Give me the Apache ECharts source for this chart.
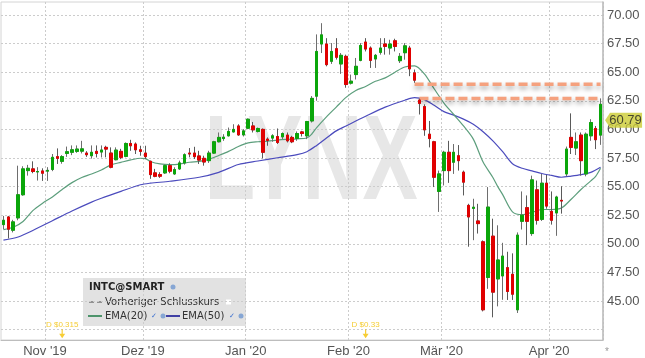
<!DOCTYPE html>
<html><head><meta charset="utf-8">
<script src="https://cdn.jsdelivr.net/npm/echarts@6/dist/echarts.min.js"></script>
<style>html,body{margin:0;padding:0;background:#fff}#c{width:645px;height:358px}</style>
</head><body><div id="c"></div>
<script>
// ---------- DATA ----------
const dates = [
'2019-10-21','2019-10-22','2019-10-23','2019-10-24','2019-10-25','2019-10-28','2019-10-29','2019-10-30','2019-10-31',
'2019-11-01','2019-11-04','2019-11-05','2019-11-06','2019-11-07','2019-11-08','2019-11-11','2019-11-12','2019-11-13','2019-11-14','2019-11-15','2019-11-18','2019-11-19','2019-11-20','2019-11-21','2019-11-22','2019-11-25','2019-11-26','2019-11-27','2019-11-29',
'2019-12-02','2019-12-03','2019-12-04','2019-12-05','2019-12-06','2019-12-09','2019-12-10','2019-12-11','2019-12-12','2019-12-13','2019-12-16','2019-12-17','2019-12-18','2019-12-19','2019-12-20','2019-12-23','2019-12-24','2019-12-26','2019-12-27','2019-12-30','2019-12-31',
'2020-01-02','2020-01-03','2020-01-06','2020-01-07','2020-01-08','2020-01-09','2020-01-10','2020-01-13','2020-01-14','2020-01-15','2020-01-16','2020-01-17','2020-01-21','2020-01-22','2020-01-23','2020-01-24','2020-01-27','2020-01-28','2020-01-29','2020-01-30','2020-01-31',
'2020-02-03','2020-02-04','2020-02-05','2020-02-06','2020-02-07','2020-02-10','2020-02-11','2020-02-12','2020-02-13','2020-02-14','2020-02-18','2020-02-19','2020-02-20','2020-02-21','2020-02-24','2020-02-25','2020-02-26','2020-02-27','2020-02-28',
'2020-03-02','2020-03-03','2020-03-04','2020-03-05','2020-03-06','2020-03-09','2020-03-10','2020-03-11','2020-03-12','2020-03-13','2020-03-16','2020-03-17','2020-03-18','2020-03-19','2020-03-20','2020-03-23','2020-03-24','2020-03-25','2020-03-26','2020-03-27','2020-03-30','2020-03-31',
'2020-04-01','2020-04-02','2020-04-03','2020-04-06','2020-04-07','2020-04-08','2020-04-09','2020-04-13','2020-04-14','2020-04-15','2020-04-16'
];
const openV = [
51.68,52.35,51.19,52.27,54.29,56.40,56.55,56.28,56.37,
56.35,56.50,57.62,57.21,57.90,58.00,58.08,58.10,57.93,57.70,58.08,58.02,58.43,57.93,57.35,58.08,57.64,58.77,58.72,58.22,
57.93,57.21,56.20,56.05,56.20,56.83,56.11,56.55,57.07,57.93,57.93,57.68,57.47,57.27,57.93,58.92,59.20,59.44,59.78,60.30,59.52,
60.10,60.30,59.82,60.00,59.15,59.24,59.38,59.35,59.50,59.30,59.21,59.78,59.44,60.74,62.90,67.46,67.46,65.95,67.05,65.72,66.38,
64.04,64.79,66.03,67.63,67.11,66.15,66.73,67.46,67.11,67.74,66.00,66.70,67.11,64.94,62.56,61.99,59.58,58.92,54.58,
56.40,58.00,57.13,57.70,56.26,53.36,53.10,52.00,50.18,47.06,50.67,46.94,47.20,47.92,47.34,44.24,51.97,53.16,50.90,54.72,52.14,55.30,
52.84,52.70,53.80,56.11,59.30,58.37,59.50,56.11,59.44,60.08,59.50
];
const closeV = [
52.06,51.28,51.92,54.29,56.55,56.60,56.32,56.32,56.17,
56.42,57.56,57.47,57.62,58.05,58.22,58.28,58.30,57.79,58.00,57.90,58.20,58.28,56.69,58.19,57.56,58.77,58.57,58.22,58.08,
57.62,56.05,55.90,55.91,56.83,56.35,56.49,57.07,57.79,57.85,57.62,57.32,57.15,57.93,58.92,59.30,59.32,59.82,60.00,59.52,59.87,
60.89,59.96,60.08,58.00,59.04,59.44,58.86,59.64,59.00,58.92,59.64,59.64,60.69,62.71,66.81,68.26,65.66,66.81,66.30,66.47,63.92,
64.21,65.51,67.33,67.02,66.03,66.47,67.11,67.25,67.46,67.25,66.38,67.30,65.29,64.30,62.27,59.96,59.20,55.82,56.11,
58.00,56.40,58.00,57.27,55.39,52.35,53.20,51.77,44.24,53.21,45.78,48.59,48.93,45.84,45.60,50.76,52.50,51.97,55.59,52.06,55.30,53.30,
52.06,54.09,53.74,58.28,58.43,58.92,57.27,59.58,60.60,59.10,62.19
];
const lowV = [
51.28,50.47,51.00,52.06,54.20,55.96,56.17,55.53,55.50,
55.50,56.35,56.98,57.00,57.60,57.75,57.95,57.90,57.60,57.45,57.55,57.55,57.56,56.60,57.30,57.40,57.56,58.13,57.85,57.70,
57.41,55.68,55.82,55.76,56.11,56.17,56.02,56.46,56.92,57.56,57.41,56.98,56.83,57.07,57.85,58.86,59.00,59.38,59.73,59.44,59.38,
60.02,59.73,59.73,57.47,58.57,58.92,58.72,59.15,58.86,58.80,59.00,59.38,59.15,60.60,62.50,66.67,65.51,65.72,66.10,64.85,63.64,
63.92,64.36,65.95,66.81,65.37,65.37,66.53,66.53,66.53,66.81,65.80,66.09,64.65,64.07,61.30,59.44,58.43,54.96,52.79,
55.10,55.33,56.11,56.40,54.23,49.75,50.32,50.90,44.10,46.07,43.58,44.54,45.11,45.10,45.10,43.96,51.25,49.89,50.70,51.68,52.00,53.07,
51.68,50.70,52.64,55.90,57.85,57.76,55.96,55.90,59.00,58.28,58.65
];
const highV = [
52.44,52.44,52.10,56.83,56.78,56.90,57.21,56.70,56.60,
56.70,57.85,58.34,57.75,58.50,58.60,58.60,59.00,58.10,58.60,58.60,58.60,58.57,58.43,58.43,58.30,58.86,59.09,58.86,58.57,
58.57,57.27,56.55,56.26,56.92,57.04,56.69,57.27,57.91,58.37,58.48,58.13,57.70,58.13,59.00,59.73,59.58,60.16,60.45,60.45,60.02,
60.95,60.65,60.16,60.08,59.30,59.58,60.08,59.73,59.73,59.44,59.82,59.87,60.74,62.91,68.30,69.28,67.97,67.54,67.97,66.67,66.53,
64.79,66.24,67.54,67.97,67.25,66.59,67.97,67.97,67.83,67.92,66.67,67.54,67.30,65.23,62.68,62.19,60.74,59.00,56.40,
58.13,59.00,58.72,58.63,56.40,53.50,53.94,53.50,50.30,54.96,52.20,51.62,50.09,49.31,49.17,51.00,54.58,54.23,55.96,55.53,56.11,56.02,
54.58,54.20,55.04,58.50,61.40,59.73,59.73,59.73,60.89,60.30,62.71
];
// EMA values at sample candles: [candle index, value]
const ema20Pts = [[0,51.25],[2,51.45],[4,51.95],[6,52.9],[8,53.55],[10,54.1],[12,54.75],[14,55.35],[16,55.8],[18,56.1],[20,56.45],[22,56.9],[24,57.12],[26,57.33],[28,57.48],[29,57.45],[30,57.2],[32,56.98],[34,56.92],[36,56.97],[38,57.13],[40,57.2],[42,57.38],[44,57.72],[46,58.08],[48,58.5],[50,58.82],[52,58.92],[54,58.98],[56,59.07],[58,59.13],[60,59.18],[62,59.25],[63,59.6],[64,60.16],[66,61.1],[68,61.95],[70,62.8],[72,63.4],[74,63.75],[76,64.2],[78,64.5],[80,65.0],[82,65.45],[84,65.55],[86,64.85],[88,63.55],[90,62.3],[92,61.3],[94,60.3],[96,59.15],[98,57.15],[100,55.8],[101,55.0],[102,54.3],[104,52.8],[106,52.55],[108,52.75],[110,53.0],[112,53.0],[114,53.13],[116,53.9],[118,54.75],[120,55.5],[121,55.9],[122,56.6]];
const ema50Pts = [[0,50.32],[3,50.6],[6,51.17],[10,52.02],[14,52.87],[18,53.65],[20,53.98],[24,54.58],[28,55.16],[30,55.3],[34,55.47],[40,55.82],[44,56.25],[48,56.93],[52,57.24],[56,57.52],[60,57.8],[62,58.05],[64,58.6],[66,59.25],[68,59.87],[70,60.3],[74,61.15],[78,61.95],[82,62.55],[84,62.77],[86,62.6],[88,62.1],[90,61.55],[92,61.25],[94,60.9],[96,60.45],[98,59.8],[100,59.0],[102,58.05],[104,57.0],[106,56.6],[108,56.38],[110,56.15],[112,55.98],[114,55.82],[116,55.92],[118,56.05],[120,56.25],[122,56.7]];
const prevCloseValues = [63.95, 62.71];
const prevCloseStart = [84, 85];
const yGridValues = [42.5,45,47.5,50,52.5,55,57.5,60,62.5,65,67.5,70];
const yLabelValues = [45,47.5,50,52.5,55,57.5,60,62.5,65,67.5,70];
const monthLabels = {'2019-11':"Nov '19",'2019-12':"Dez '19",'2020-01':"Jan '20",'2020-02':"Feb '20",'2020-03':"Mär '20",'2020-04':"Apr '20"};
const dividendIdx = [12, 74];
const dividendText = ['D $0.315', 'D $0.33'];
const lastPrice = 60.79;

// ---------- BUILD ----------
const monthStart = new Set();
dates.forEach((d, i) => { if (i > 0 && d.slice(0,7) !== dates[i-1].slice(0,7)) monthStart.add(i); });
const lastIdx = dates.length - 1;
const fullCandles = dates.map((d,i) => [openV[i], closeV[i], lowV[i], highV[i]]);
const bodies = dates.map((d,i) => [openV[i], closeV[i], Math.min(openV[i],closeV[i]), Math.max(openV[i],closeV[i])]);
const GREEN = '#0aa60a', RED = '#e00000';
const AX = 'Liberation Sans, Arial, sans-serif';
const LG = 'DejaVu Sans, Verdana, sans-serif';

const prevSeries = prevCloseValues.map((v,k) => ({
  type:'line', data:[[prevCloseStart[k], v],[lastIdx, v]], symbol:'none', silent:true, z:4,
  lineStyle:{color:'#f5a17e', width:3.5, type:[9,4], shadowBlur:5, shadowColor:'rgba(0,0,0,0.35)', shadowOffsetY:3}
}));

const chart = echarts.init(document.getElementById('c'), null, {renderer:'canvas'});
chart.setOption({
  animation:false,
  backgroundColor:'#ffffff',
  grid:{left:1, right:42, top:2, bottom:16, show:true, borderColor:'#d4d4d4', borderWidth:1},
  xAxis:{
    type:'category', data:dates, boundaryGap:true,
    axisLine:{show:true, lineStyle:{color:'#bdbdbd', width:1}},
    axisTick:{show:false},
    axisLabel:{interval:(i)=>monthStart.has(i), formatter:(v)=>monthLabels[v.slice(0,7)]||'', color:'#555', fontFamily:AX, fontSize:13, margin:5, padding:[0,5,0,0]},
    splitLine:{show:true, interval:(i)=>monthStart.has(i), lineStyle:{color:'#cccccc', type:[2,2], width:1}}
  },
  yAxis:{
    type:'value', position:'right', min:41.6, max:71.13, scale:true,
    axisLine:{show:true, lineStyle:{color:'#bdbdbd', width:1.5}},
    axisTick:{show:false, customValues:yGridValues},
    axisLabel:{customValues:yLabelValues, formatter:(v)=>v.toFixed(2), color:'#555', fontFamily:AX, fontSize:13, margin:4},
    splitLine:{show:true, lineStyle:{color:'#cccccc', type:[2,2], width:1}}
  },
  series:[
    {type:'line', data:ema50Pts, smooth:0.3, symbol:'none', silent:true, z:2, lineStyle:{color:'#4b4bbd', width:1.2}},
    {type:'line', data:ema20Pts, smooth:0.3, symbol:'none', silent:true, z:2, lineStyle:{color:'#5c9e7c', width:1.2}},
    ...prevSeries,
    {type:'candlestick', data:fullCandles, barWidth:3, z:5,
      itemStyle:{color:'#ffffff', color0:'#ffffff', borderColor:'#6e6e6e', borderColor0:'#5a5a5a', borderWidth:1}},
    {type:'candlestick', data:bodies, barWidth:3, z:6,
      itemStyle:{color:GREEN, color0:RED, borderColor:GREEN, borderColor0:RED, borderWidth:1}},
    {type:'scatter', clip:false, z:7, silent:true,
      data:dividendIdx.map((ix,k)=>({value:[ix, 42.14], name:dividendText[k]})),
      symbol:'path://M2.4,0 L3.6,0 L3.6,5 L6,5 L3,10 L0,5 L2.4,5 Z', symbolSize:[6,9],
      itemStyle:{color:'#f5c000'},
      label:{show:true, position:'top', distance:1, formatter:(p)=>p.name, color:'#f2c000', fontFamily:AX, fontSize:8}},
    {type:'scatter', clip:false, z:8, silent:true,
      data:[[lastIdx, lastPrice]],
      symbol:'path://M0,7.5 L5,0 L37,0 L37,15 L5,15 Z', symbolSize:[37,15], symbolOffset:[23,0],
      itemStyle:{color:'#cccc33'},
      label:{show:true, position:'inside', offset:[2,0], formatter:()=>lastPrice.toFixed(2), color:'#222', fontFamily:AX, fontSize:13}}
  ],
  graphic:[
    {type:'text', z:-10, x:311, y:166, scaleX:0.69, silent:true,
      style:{text:'LYNX', fontFamily:AX, fontWeight:'bold', fontSize:120, fill:'#e7e7e7', align:'center', verticalAlign:'middle'}},
    {type:'group', z:50, children:[
      {type:'rect', shape:{x:83, y:278, width:163, height:48}, style:{fill:'#e2e2e2'}},
      {type:'text', x:89, y:287, style:{text:'INTC@SMART', fontFamily:LG, fontWeight:'bold', fontSize:10, fill:'#222', verticalAlign:'middle'}},
      {type:'circle', shape:{cx:173, cy:287, r:2.5}, style:{fill:'#86a6d4'}},
      {type:'line', shape:{x1:89, y1:302, x2:94, y2:302}, style:{stroke:'#666', lineWidth:1.3}},
      {type:'line', shape:{x1:97, y1:302, x2:102, y2:302}, style:{stroke:'#666', lineWidth:1.3}},
      {type:'text', x:105, y:302, style:{text:'Vorheriger Schlusskurs', fontFamily:LG, fontSize:10, fill:'#333', verticalAlign:'middle'}},
      {type:'rect', shape:{x:226, y:299.5, width:5, height:5}, style:{fill:'#ffffff'}},
      {type:'line', shape:{x1:88, y1:316, x2:102, y2:316}, style:{stroke:'#3d8c5e', lineWidth:1.8}},
      {type:'text', x:105, y:316, style:{text:'EMA(20)', fontFamily:LG, fontSize:10, fill:'#333', verticalAlign:'middle'}},
      {type:'text', x:151, y:316, style:{text:'✓', fontFamily:LG, fontSize:7, fill:'#3a6fd0', verticalAlign:'middle'}},
      {type:'circle', shape:{cx:163, cy:316, r:2.5}, style:{fill:'#86a6d4'}},
      {type:'line', shape:{x1:166, y1:316, x2:180, y2:316}, style:{stroke:'#2e2e9e', lineWidth:1.8}},
      {type:'text', x:182, y:316, style:{text:'EMA(50)', fontFamily:LG, fontSize:10, fill:'#333', verticalAlign:'middle'}},
      {type:'text', x:229, y:316, style:{text:'✓', fontFamily:LG, fontSize:7, fill:'#3a6fd0', verticalAlign:'middle'}},
      {type:'circle', shape:{cx:241, cy:316, r:2.5}, style:{fill:'#86a6d4'}}
    ]},
    {type:'text', x:607, y:352, z:50, style:{text:'*', fontFamily:AX, fontSize:10, fill:'#999', align:'center', verticalAlign:'middle'}}
  ]
});
</script>
</body></html>
